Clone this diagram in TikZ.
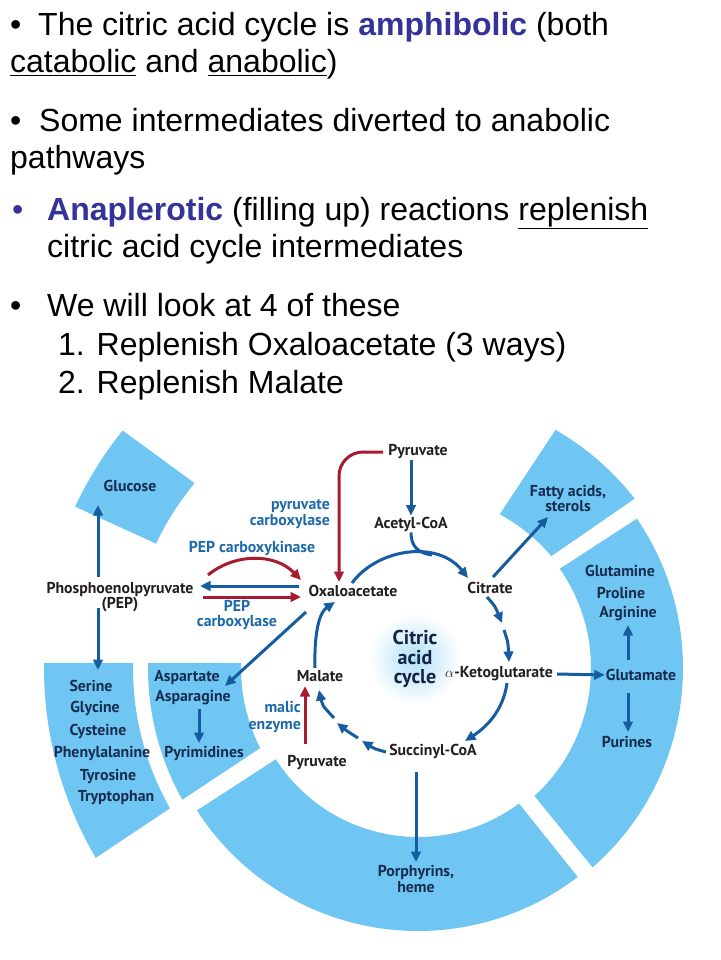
\documentclass[tikz,border=0pt]{standalone}
\usepackage{fontspec}
\setmainfont{Liberation Sans}
\newfontfamily\df{PT Sans}
\usetikzlibrary{arrows.meta}
\definecolor{purp}{RGB}{51,51,153}
\definecolor{ringc}{RGB}{112,198,242}
\definecolor{navy}{RGB}{22,45,80}
\definecolor{dark}{RGB}{35,31,32}
\definecolor{lbl}{RGB}{28,105,170}
\definecolor{arb}{RGB}{22,92,160}
\definecolor{arr}{RGB}{165,28,48}
\begin{document}
\begin{tikzpicture}[x=1pt,y=-1pt,
  txt/.style={anchor=base west, inner sep=0pt, font=\fontsize{32}{38}\selectfont},
  cpd/.style={font=\df\bfseries\fontsize{15.8}{15}\selectfont, text=dark, inner sep=1pt, align=center},
  ringtxt/.style={cpd, text=navy},
  enz/.style={cpd, text=lbl},
  barrow/.style={draw=arb, line width=3pt, -{Triangle[length=10.5pt,width=9.5pt]}},
  bline/.style={draw=arb, line width=3pt},
  rarrow/.style={draw=arr, line width=3pt, -{Triangle[length=10.5pt,width=9.5pt]}},
]
\useasboundingbox (0,0) rectangle (720,960);
\fill[white] (0,0) rectangle (720,960);

% ---------- bullet text ----------
\node[txt] (b1) at (10,36) {•};
\node[txt] (t1) at (38,36) {The citric acid cycle is \textbf{\color{purp}amphibolic} (both};
\node[txt] (t2) at (10,73) {\underline{catabolic} and \underline{anabolic})};
\node[txt] (b3) at (10,132) {•};
\node[txt] (t3) at (39,132) {Some intermediates diverted to anabolic};
\node[txt] (t4) at (10,169) {pathways};
\node[txt] (b5) at (12,220) {\color{purp}•};
\node[txt] (t5) at (47,220) {\textbf{\color{purp}Anaplerotic} (filling up) reactions \underline{replenish}};
\node[txt] (t6) at (47,257) {citric acid cycle intermediates};
\node[txt] (b7) at (10,316) {•};
\node[txt] (t7) at (47,316) {We will look at 4 of these};
\node[txt] (t8) at (58,355) {1. Replenish Oxaloacetate (3 ways)};
\node[txt] (t9) at (58,393) {2. Replenish Malate};

% ---------- ring segments ----------
\begin{scope}[shift={(418,668)}, yscale=-1]
  % fatty acids
  \fill[ringc] (38:275) arc[start angle=38,end angle=60,radius=275] -- (62:174) arc[start angle=62,end angle=40,radius=174] -- cycle;
  % glutamine ... purines
  \fill[ringc] (-48.8:265) arc[start angle=-48.8,end angle=34.3,radius=265] -- (35:173) arc[start angle=35,end angle=-47.7,radius=173] -- cycle;
  % porphyrins
  \fill[ringc] (-147.2:263) arc[start angle=-147.2,end angle=-52.6,radius=263] -- (-53.3:169) arc[start angle=-53.3,end angle=-147.3,radius=169] -- cycle;
  % aspartate
  \fill[ringc] (178.9:270) arc[start angle=178.9,end angle=209.2,radius=270] -- (206.9:177) arc[start angle=206.9,end angle=178.4,radius=177] -- cycle;
  % serine ...
  \fill[ringc] (179.2:374) arc[start angle=179.2,end angle=210.5,radius=374] -- (209.5:285) arc[start angle=209.5,end angle=179,radius=285] -- cycle;
  % glucose
  \fill[ringc] (141.2:379) arc[start angle=141.2,end angle=154.8,radius=379] -- (154.6:290) arc[start angle=154.6,end angle=140.4,radius=290] -- cycle;
\end{scope}

% glow
\shade[inner color=ringc!55, outer color=white] (415,659) circle[radius=46];

% ---------- compound nodes ----------
\node[cpd] (pyr) at (418,452) {Pyruvate};
\node[cpd] (acoa) at (411,524) {Acetyl-CoA};
\node[cpd] (cit) at (490,588) {Citrate};
\node[cpd] (akg) at (499,674) {$\alpha$-Ketoglutarate};
\node[cpd] (succ) at (433,751) {Succinyl-CoA};
\node[cpd] (mal) at (320,676) {Malate};
\node[cpd] (oaa) at (353,591) {Oxaloacetate};
\node[cpd] (pyr2) at (317,763) {Pyruvate};
\node[cpd] (pep) at (120,597) {Phosphoenolpyruvate\\(PEP)};
\node[cpd, text=navy!80!black, font=\df\bfseries\fontsize{20}{19.5}\selectfont] (cac) at (415,659) {Citric\\acid\\cycle};

\node[ringtxt] (glu) at (130,486) {Glucose};
\node[ringtxt, font=\df\bfseries\fontsize{15.8}{15}\selectfont] (fat) at (568,498) {Fatty acids,\\sterols};
\node[ringtxt] (gln) at (620,571) {Glutamine};
\node[ringtxt] (pro) at (621,593) {Proline};
\node[ringtxt] (arg) at (628,614) {Arginine};
\node[ringtxt] (glt) at (641,675) {Glutamate};
\node[ringtxt] (pur) at (627,742) {Purines};
\node[ringtxt, font=\df\bfseries\fontsize{15.8}{16}\selectfont] (por) at (416,879) {Porphyrins,\\heme};
\node[ringtxt] (ser) at (91,686) {Serine};
\node[ringtxt] (gly) at (95,708) {Glycine};
\node[ringtxt] (cys) at (98,731) {Cysteine};
\node[ringtxt] (phe) at (102,753) {Phenylalanine};
\node[ringtxt] (tyr) at (108,776) {Tyrosine};
\node[ringtxt] (trp) at (116,798) {Tryptophan};
\node[ringtxt] (asp) at (187,678) {Aspartate};
\node[ringtxt] (asn) at (193,698) {Asparagine};
\node[ringtxt] (pyrim) at (204,753) {Pyrimidines};

\node[enz, align=right, anchor=east, font=\df\bfseries\fontsize{15.8}{16}\selectfont] (pc) at (331,514) {pyruvate\\carboxylase};
\node[enz] (pepck) at (252,548) {PEP carboxykinase};
\node[enz, font=\df\bfseries\fontsize{15.8}{15}\selectfont] (pepc) at (237,615) {PEP\\carboxylase};
\node[enz, align=right, anchor=east, font=\df\bfseries\fontsize{15.8}{17}\selectfont] (me) at (302,717) {malic\\enzyme};

% ---------- connector end points ----------
\coordinate (acJ) at (432,555);
\coordinate (oaaA) at (352,583);
\coordinate (citA) at (468,578);
\coordinate (citB) at (487,597);
\coordinate (isoA) at (502,623);
\coordinate (isoB) at (504,630);
\coordinate (akgA) at (509,662);
\coordinate (akgB) at (507,683);
\coordinate (succA) at (465,741);
\coordinate (succB) at (386,752);
\coordinate (sA) at (362,741);
\coordinate (sB) at (358,738);
\coordinate (fA) at (337,723);
\coordinate (fB) at (334,718);
\coordinate (malA) at (319,690);
\coordinate (malB) at (315,668);
\coordinate (oaaB) at (335,602);
\coordinate (fatA) at (548,517);
\coordinate (citC) at (493,577);
\coordinate (akgC) at (557,674);
\coordinate (argA) at (628,625);
\coordinate (gltA) at (628,660);
\coordinate (gltB) at (628,693);
\coordinate (purA) at (628,732);
\coordinate (succC) at (416,772);
\coordinate (porA) at (416,862);
\coordinate (oaaC) at (306,612);
\coordinate (aspA) at (225,686);
\coordinate (asnA) at (199,709);
\coordinate (pyrimA) at (199,743);
\coordinate (pepA) at (98,577);
\coordinate (gluA) at (98,505);
\coordinate (pepB) at (98,608);
\coordinate (serA) at (98,670);
\coordinate (oaaD) at (299,586);
\coordinate (pepC) at (200,586);
\coordinate (pepD) at (203,597);
\coordinate (oaaE) at (301,597);
\coordinate (pepE) at (208,575);
\coordinate (oaaF) at (301,580);
\coordinate (pyrA) at (383,452);
\coordinate (oaaG) at (339,582);
\coordinate (pyr2A) at (305,744);
\coordinate (malC) at (305,686);

% ---------- blue connectors ----------
\draw[barrow] (pyr.south -| acoa) -- (acoa.north);
\draw[bline] (acoa.south) .. controls +(0,14) and (418,553) .. (acJ);
\draw[barrow] (oaaA) .. controls (378,548) and (438,540) .. (citA);
\draw[barrow] (citC) -- (fatA);
\draw[barrow] (citB) .. controls (495,606) .. (isoA);
\draw[barrow] (isoB) .. controls (508,642) .. (akgA);
\draw[barrow] (akgB) .. controls (503,712) and (485,728) .. (succA);
\draw[barrow] (succB) .. controls (375,749) .. (sA);
\draw[barrow] (sB) .. controls (347,731) .. (fA);
\draw[barrow] (fB) .. controls (322,705) .. (malA);
\draw[barrow] (malB) .. controls (314,630) and (320,612) .. (oaaB);
\draw[barrow] (akgC) -- (glt.west);
\draw[barrow] (gltA) -- (argA);
\draw[barrow] (gltB) -- (purA);
\draw[barrow] (succC) -- (porA);
\draw[barrow] (oaaC) -- (aspA);
\draw[barrow] (asnA) -- (pyrimA);
\draw[barrow] (pepA) -- (gluA);
\draw[barrow] (pepB) -- (serA);
\draw[barrow] (oaaD) -- (pepC);

% ---------- red connectors ----------
\draw[rarrow] (pepD) -- (oaaE);
\draw[rarrow] (pepE) .. controls (235,553) and (275,553) .. (oaaF);
\draw[rarrow, rounded corners=24pt] (pyrA) -| (oaaG);
\draw[rarrow] (pyr2A) -- (malC);
\end{tikzpicture}
\end{document}
